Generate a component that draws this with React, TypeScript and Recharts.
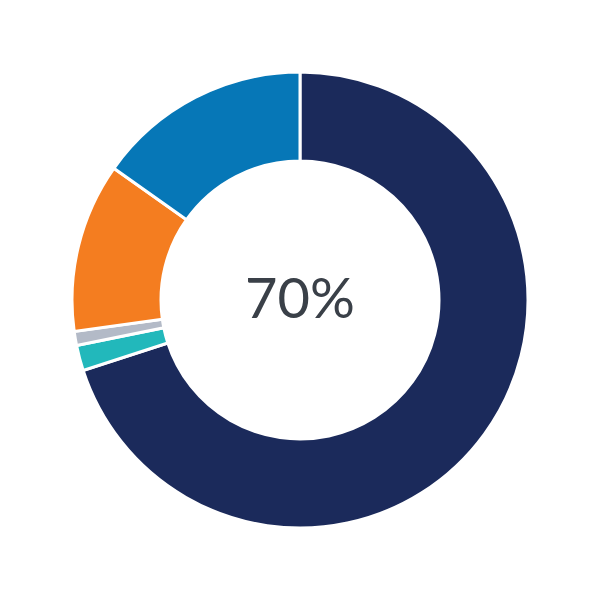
import { PieChart, Pie, Cell } from 'recharts'

const labels = ['Navy', 'Teal', 'Gray', 'Orange', 'Blue']
const values = [70, 1.8, 1.0, 12.0, 15.2]
const COLORS = ['#1b2a5b', '#22b8bb', '#b3bac7', '#f47d20', '#0677b7']

const data = labels.map((name, i) => ({ name, value: values[i] }))

export default function App() {
  return (
    <div style={{ position: 'absolute', top: 0, left: 0, width: 600, height: 600, background: '#fff' }}>
      <PieChart width={600} height={600} margin={{ top: 0, right: 0, bottom: 0, left: 0 }}>
        <Pie
          data={data}
          dataKey="value"
          nameKey="name"
          cx={300}
          cy={300}
          innerRadius={139}
          outerRadius={228}
          startAngle={90}
          endAngle={-270}
          stroke="#fff"
          strokeWidth={3}
          isAnimationActive={false}
        >
          {data.map((_, i) => (
            <Cell key={i} fill={COLORS[i]} />
          ))}
        </Pie>
        <text
          x={300}
          y={296}
          textAnchor="middle"
          dominantBaseline="central"
          fontFamily="Lato"
          fontWeight={400}
          fontSize={56}
          fill="#3a4048"
        >
          70%
        </text>
      </PieChart>
    </div>
  )
}
